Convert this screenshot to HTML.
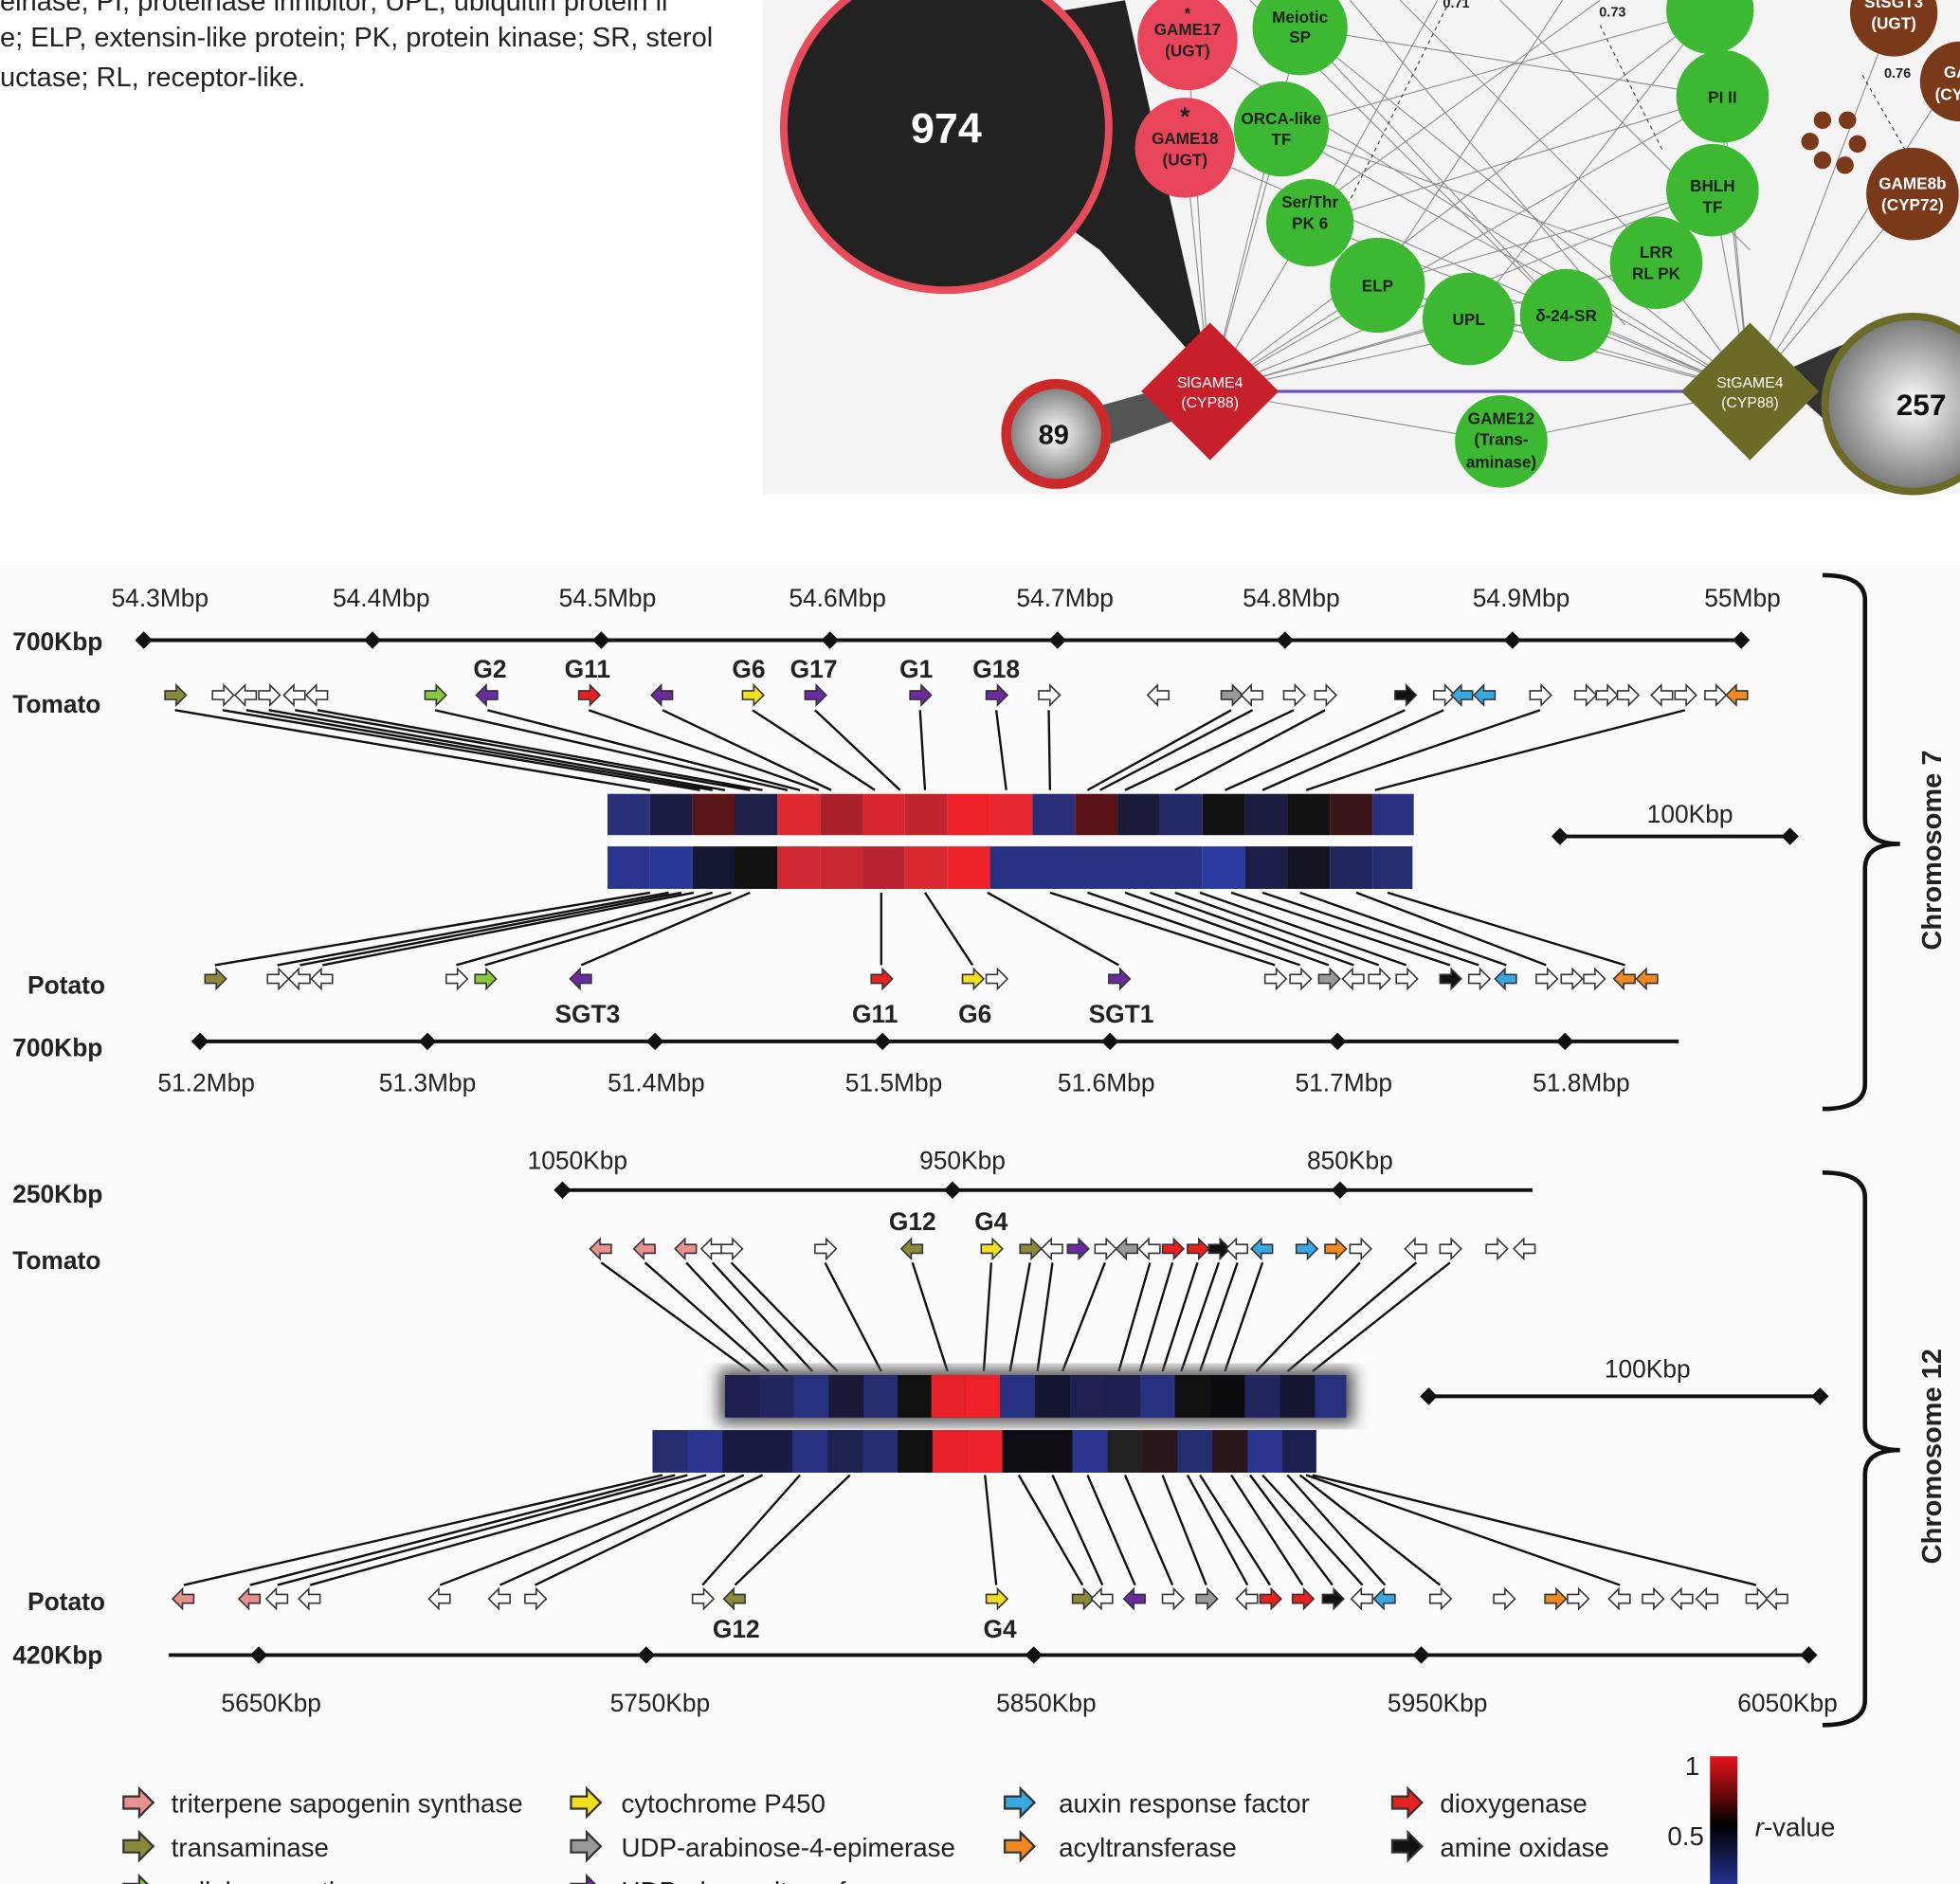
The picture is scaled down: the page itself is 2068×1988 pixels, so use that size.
<!DOCTYPE html>
<html><head><meta charset="utf-8"><style>
html,body{margin:0;padding:0;background:#fff}
svg{display:block}
text{font-family:"Liberation Sans",sans-serif}
</style></head><body>
<svg width="2068" height="1988" viewBox="0 0 1568 1507" xmlns="http://www.w3.org/2000/svg">
<defs>
<path id="ar" d="M-8,-3.5 H1 V-8 L9,0 L1,8 V3.5 H-8 Z" stroke="#333" stroke-width="1.2"/>
<path id="al" d="M8,-3.5 H-1 V-8 L-9,0 L-1,8 V3.5 H8 Z" stroke="#333" stroke-width="1.2"/>
<radialGradient id="gg" cx="0.5" cy="0.5" r="0.5"><stop offset="0" stop-color="#fff"/><stop offset="1" stop-color="#777"/></radialGradient>
<linearGradient id="cb" x1="0" y1="0" x2="0" y2="1"><stop offset="0" stop-color="#e8141c"/><stop offset="0.5" stop-color="#000"/><stop offset="1" stop-color="#2a3aa8"/></linearGradient>
<filter id="bl"><feGaussianBlur stdDeviation="6"/></filter>
</defs>
<rect width="1568" height="1507" fill="#fff"/>
<g font-size="22" fill="#222">
<text x="0" y="8">einase; PI, proteinase inhibitor; UPL, ubiquitin protein li</text>
<text x="0" y="37">e; ELP, extensin-like protein; PK, protein kinase; SR, sterol</text>
<text x="0" y="69">uctase; RL, receptor-like.</text>
</g>
<!-- network -->
<rect x="610" y="0" width="958" height="395" fill="#f4f4f4"/>
<g stroke="#888" stroke-width="0.8" fill="none">
<path d="M950,32L968,313M948,118L968,313M1040,22L968,313M1025,103L968,313M1048,178L968,313M1102,228L968,313M1175,255L968,313M1253,252L968,313M1325,210L968,313M1370,152L968,313M1378,77L968,313M1368,8L968,313M1201,353L968,313M1040,22L1400,313M1025,103L1400,313M1048,178L1400,313M1102,228L1400,313M1175,255L1400,313M1253,252L1400,313M1325,210L1400,313M1370,152L1400,313M1378,77L1400,313M1368,8L1400,313M1201,353L1400,313M1515,10L1400,313M1530,155L1400,313M1560,65L1400,313M950,32L1400,313M948,118L1400,313M1040,22L1378,77M1025,103L1368,8M1048,178L1378,77M1102,228L1370,152M1175,255L1368,8M1253,252L1040,22M1325,210L1025,103M1080,0L1300,260M1150,0L1050,180M1250,0L1100,230M1200,0L1400,200M1000,0L1250,250M1120,0L1320,200M1280,0L1060,160"/>
</g>
<g stroke="#333" stroke-width="0.8" stroke-dasharray="3,3" fill="none"><path d="M1160,0L1060,200M1280,20L1330,120M1490,60L1530,130"/></g>
<polygon points="660,40 900,0 968,300 880,200" fill="#222"/>
<circle cx="757" cy="102" r="130" fill="#222" stroke="#e84b5a" stroke-width="6"/>
<text x="757" y="114" font-size="34" font-weight="bold" fill="#fff" text-anchor="middle">974</text>
<polygon points="860,330 968,300 968,326 860,365" fill="#555"/>
<circle cx="845" cy="347" r="40" fill="url(#gg)" stroke="#cc2a2a" stroke-width="8"/>
<text x="843" y="355" font-size="22" font-weight="bold" text-anchor="middle" fill="#111">89</text>
<line x1="1020" y1="313" x2="1350" y2="313" stroke="#6a4fc8" stroke-width="2.5"/>
<polygon points="968,258 1023,313 968,368 913,313" fill="#c8202a"/>
<text x="968" y="310" font-size="12" fill="#fff" text-anchor="middle">SlGAME4</text>
<text x="968" y="326" font-size="12" fill="#fff" text-anchor="middle">(CYP88)</text>
<polygon points="1420,300 1520,255 1520,390" fill="#333"/>
<circle cx="1530" cy="323" r="70" fill="url(#gg)" stroke="#6b6a26" stroke-width="6"/>
<text x="1537" y="332" font-size="24" font-weight="bold" text-anchor="middle" fill="#111">257</text>
<polygon points="1400,258 1455,313 1400,368 1345,313" fill="#6b6a26"/>
<text x="1400" y="310" font-size="12" fill="#fff" text-anchor="middle">StGAME4</text>
<text x="1400" y="326" font-size="12" fill="#fff" text-anchor="middle">(CYP88)</text>
<g fill="#e8455a"><circle cx="950" cy="32" r="40"/><circle cx="948" cy="118" r="40"/></g>
<g font-size="13" font-weight="bold" fill="#222" text-anchor="middle">
<text x="950" y="15">*</text><text x="950" y="28">GAME17</text><text x="950" y="45">(UGT)</text>
<text x="948" y="100" font-size="20">*</text><text x="948" y="115">GAME18</text><text x="948" y="132">(UGT)</text>
</g>
<g fill="#3cb832">
<circle cx="1040" cy="22" r="38"/><circle cx="1025" cy="103" r="38"/><circle cx="1048" cy="178" r="35"/><circle cx="1102" cy="228" r="38"/><circle cx="1175" cy="255" r="37"/><circle cx="1253" cy="252" r="37"/><circle cx="1325" cy="210" r="37"/><circle cx="1370" cy="152" r="37"/><circle cx="1378" cy="77" r="37"/><circle cx="1368" cy="8" r="35"/><circle cx="1201" cy="353" r="37"/>
</g>
<g font-size="13" font-weight="bold" fill="#222" text-anchor="middle">
<text x="1040" y="18">Meiotic</text><text x="1040" y="34">SP</text>
<text x="1025" y="99">ORCA-like</text><text x="1025" y="116">TF</text>
<text x="1048" y="166">Ser/Thr</text><text x="1048" y="183">PK 6</text>
<text x="1102" y="233">ELP</text><text x="1175" y="260">UPL</text><text x="1253" y="257">δ-24-SR</text>
<text x="1325" y="206">LRR</text><text x="1325" y="223">RL PK</text>
<text x="1370" y="153">BHLH</text><text x="1370" y="170">TF</text><text x="1378" y="82">PI II</text>
<text x="1201" y="339">GAME12</text><text x="1201" y="356">(Trans-</text><text x="1201" y="374">aminase)</text>
<text x="1165" y="6" font-size="11">0.71</text><text x="1290" y="13" font-size="11">0.73</text><text x="1518" y="62" font-size="11">0.76</text>
</g>
<g fill="#7a3a1a"><circle cx="1515" cy="10" r="35"/><circle cx="1530" cy="155" r="37"/><circle cx="1568" cy="65" r="32"/>
<circle cx="1458" cy="96" r="7"/><circle cx="1478" cy="96" r="7"/><circle cx="1448" cy="113" r="7"/><circle cx="1486" cy="115" r="7"/><circle cx="1458" cy="128" r="7"/><circle cx="1476" cy="132" r="7"/></g>
<g font-size="13" font-weight="bold" fill="#fff" text-anchor="middle">
<text x="1515" y="6">StSGT3</text><text x="1515" y="23">(UGT)</text>
<text x="1530" y="151">GAME8b</text><text x="1530" y="168">(CYP72)</text>
<text x="1555" y="62" text-anchor="start">GAM</text><text x="1548" y="80" text-anchor="start">(CY</text>
</g>
<!-- bottom panel -->
<rect x="0" y="452" width="1568" height="1055" fill="#fbfbfb"/>
<g font-weight="bold" font-size="20" fill="#222">
<text x="10" y="520">700Kbp</text><text x="10" y="570">Tomato</text><text x="22" y="795">Potato</text><text x="10" y="845">700Kbp</text>
<text x="10" y="962">250Kbp</text><text x="10" y="1015">Tomato</text><text x="22" y="1288">Potato</text><text x="10" y="1331">420Kbp</text>
</g>
<g font-size="20" fill="#222" text-anchor="middle">
<text x="128" y="485">54.3Mbp</text><text x="305" y="485">54.4Mbp</text><text x="486" y="485">54.5Mbp</text><text x="670" y="485">54.6Mbp</text><text x="852" y="485">54.7Mbp</text><text x="1033" y="485">54.8Mbp</text><text x="1217" y="485">54.9Mbp</text><text x="1394" y="485">55Mbp</text>
<text x="165" y="873">51.2Mbp</text><text x="342" y="873">51.3Mbp</text><text x="525" y="873">51.4Mbp</text><text x="715" y="873">51.5Mbp</text><text x="885" y="873">51.6Mbp</text><text x="1075" y="873">51.7Mbp</text><text x="1265" y="873">51.8Mbp</text>
<text x="1352" y="658">100Kbp</text><text x="1318" y="1102">100Kbp</text>
<text x="462" y="935">1050Kbp</text><text x="770" y="935">950Kbp</text><text x="1080" y="935">850Kbp</text>
<text x="217" y="1369">5650Kbp</text><text x="528" y="1369">5750Kbp</text><text x="837" y="1369">5850Kbp</text><text x="1150" y="1369">5950Kbp</text><text x="1430" y="1369">6050Kbp</text>
</g>
<g font-weight="bold" font-size="20" fill="#222" text-anchor="middle">
<text x="392" y="542">G2</text><text x="470" y="542">G11</text><text x="599" y="542">G6</text><text x="651" y="542">G17</text><text x="733" y="542">G1</text><text x="797" y="542">G18</text>
<text x="470" y="818">SGT3</text><text x="700" y="818">G11</text><text x="780" y="818">G6</text><text x="897" y="818">SGT1</text>
<text x="730" y="984">G12</text><text x="793" y="984">G4</text><text x="589" y="1310">G12</text><text x="800" y="1310">G4</text>
</g>
<!-- rulers -->
<g stroke="#111" stroke-width="3">
<line x1="115" y1="512" x2="1395" y2="512"/><line x1="155" y1="833" x2="1343" y2="833"/>
<line x1="1248" y1="669" x2="1432" y2="669"/><line x1="450" y1="952" x2="1226" y2="952"/>
<line x1="135" y1="1324" x2="1450" y2="1324"/><line x1="1143" y1="1117" x2="1456" y2="1117"/>
</g>
<g fill="#111">
<g id="dd"></g>
<path d="M115,505l7,7l-7,7l-7,-7zM298,505l7,7l-7,7l-7,-7zM481,505l7,7l-7,7l-7,-7zM664,505l7,7l-7,7l-7,-7zM846,505l7,7l-7,7l-7,-7zM1028,505l7,7l-7,7l-7,-7zM1210,505l7,7l-7,7l-7,-7zM1393,505l7,7l-7,7l-7,-7z"/>
<path d="M160,826l7,7l-7,7l-7,-7zM342,826l7,7l-7,7l-7,-7zM524,826l7,7l-7,7l-7,-7zM706,826l7,7l-7,7l-7,-7zM888,826l7,7l-7,7l-7,-7zM1070,826l7,7l-7,7l-7,-7zM1252,826l7,7l-7,7l-7,-7z"/>
<path d="M1248,662l7,7l-7,7l-7,-7zM1432,662l7,7l-7,7l-7,-7zM1143,1110l7,7l-7,7l-7,-7zM1456,1110l7,7l-7,7l-7,-7z"/>
<path d="M450,945l7,7l-7,7l-7,-7zM762,945l7,7l-7,7l-7,-7zM1072,945l7,7l-7,7l-7,-7z"/>
<path d="M207,1317l7,7l-7,7l-7,-7zM517,1317l7,7l-7,7l-7,-7zM827,1317l7,7l-7,7l-7,-7zM1137,1317l7,7l-7,7l-7,-7zM1447,1317l7,7l-7,7l-7,-7z"/>
</g>
<!-- brackets -->
<g stroke="#111" stroke-width="3.5" fill="none">
<path d="M1458,460 Q1492,460 1492,480 L1492,655 Q1492,675 1520,675 Q1492,675 1492,695 L1492,867 Q1492,887 1458,887"/>
<path d="M1458,938 Q1492,938 1492,958 L1492,1140 Q1492,1160 1520,1160 Q1492,1160 1492,1180 L1492,1360 Q1492,1380 1458,1380"/>
</g>
<g font-weight="bold" font-size="22" fill="#222" text-anchor="middle">
<text transform="translate(1553,680) rotate(-90)">Chromosome 7</text>
<text transform="translate(1553,1165) rotate(-90)">Chromosome 12</text>
</g>
<!-- connecting lines -->
<g stroke="#111" stroke-width="1.8" fill="none">
<path d="M140,568L520,632M178,568L560,632M197,568L570,632M215,568L580,632M236,568L600,632M254,568L610,632M348,568L630,632M390,568L640,632M471,568L655,632M530,568L665,632M602,568L700,632M652,568L720,632M736,568L740,632M797,568L805,632M839,568L840,632M985,568L870,632M1002,568L880,632M1035,568L900,632M1060,568L940,632M1124,568L980,632M1155,568L1010,632M1232,568L1045,632M1348,568L1100,632"/>
<path d="M520,714L172,772M535,714L222,772M545,714L240,772M555,714L258,772M570,714L365,772M585,714L388,772M600,714L465,772M705,714L705,772M740,714L778,772M790,714L895,772M840,714L1020,772M870,714L1040,772M900,714L1063,772M920,714L1083,772M940,714L1103,772M960,714L1125,772M985,714L1160,772M1010,714L1183,772M1040,714L1205,772M1085,714L1237,772M1110,714L1300,772"/>
<path d="M481,1010L600,1097M516,1010L615,1097M549,1010L630,1097M570,1010L650,1097M585,1010L670,1097M660,1010L705,1097M730,1010L758,1097M793,1010L787,1097M824,1010L808,1097M842,1010L830,1097M884,1010L850,1097M920,1010L895,1097M938,1010L912,1097M958,1010L930,1097M975,1010L945,1097M990,1010L960,1097M1010,1010L980,1097M1088,1010L1005,1097M1133,1010L1030,1097M1160,1010L1050,1097"/>
<path d="M530,1180L147,1268M540,1180L200,1268M550,1180L222,1268M565,1180L248,1268M580,1180L352,1268M595,1180L400,1268M610,1180L428,1268M640,1180L562,1268M680,1180L588,1268M788,1180L797,1268M815,1180L866,1268M842,1180L882,1268M870,1180L908,1268M900,1180L938,1268M930,1180L965,1268M950,1180L998,1268M960,1180L1016,1268M985,1180L1042,1268M1000,1180L1066,1268M1010,1180L1090,1268M1030,1180L1108,1268M1040,1180L1152,1268M1045,1180L1296,1268M1050,1180L1405,1268"/>
</g>
<!-- heatmaps chr7 -->
<g>
<rect x="486" y="635" width="34" height="33" fill="#2a2f7a"/><rect x="520" y="635" width="34" height="33" fill="#1a1e44"/><rect x="554" y="635" width="34" height="33" fill="#5a1518"/><rect x="588" y="635" width="34" height="33" fill="#1c1f48"/><rect x="622" y="635" width="34" height="33" fill="#e02a30"/><rect x="656" y="635" width="34" height="33" fill="#a82028"/><rect x="690" y="635" width="34" height="33" fill="#d82530"/><rect x="724" y="635" width="34" height="33" fill="#c0242c"/><rect x="758" y="635" width="34" height="33" fill="#ee2028"/><rect x="792" y="635" width="34" height="33" fill="#e82830"/><rect x="826" y="635" width="34" height="33" fill="#2a2d78"/><rect x="860" y="635" width="34" height="33" fill="#5a1418"/><rect x="894" y="635" width="34" height="33" fill="#1a1c3a"/><rect x="928" y="635" width="34" height="33" fill="#242a68"/><rect x="962" y="635" width="34" height="33" fill="#111"/><rect x="996" y="635" width="34" height="33" fill="#1a1c40"/><rect x="1030" y="635" width="34" height="33" fill="#111"/><rect x="1064" y="635" width="34" height="33" fill="#3a1418"/><rect x="1098" y="635" width="33" height="33" fill="#2a3080"/>
<rect x="486" y="677" width="34" height="34" fill="#2a3590"/><rect x="520" y="677" width="34" height="34" fill="#2a3898"/><rect x="554" y="677" width="34" height="34" fill="#151832"/><rect x="588" y="677" width="34" height="34" fill="#111"/><rect x="622" y="677" width="34" height="34" fill="#d02830"/><rect x="656" y="677" width="34" height="34" fill="#c82830"/><rect x="690" y="677" width="34" height="34" fill="#b82430"/><rect x="724" y="677" width="34" height="34" fill="#d82830"/><rect x="758" y="677" width="34" height="34" fill="#ee2228"/><rect x="792" y="677" width="170" height="34" fill="#283282"/><rect x="962" y="677" width="34" height="34" fill="#2a3aa0"/><rect x="996" y="677" width="34" height="34" fill="#1a1e48"/><rect x="1030" y="677" width="34" height="34" fill="#121420"/><rect x="1064" y="677" width="34" height="34" fill="#222660"/><rect x="1098" y="677" width="32" height="34" fill="#262c70"/>
</g>
<!-- heatmaps chr12 -->
<rect x="575" y="1095" width="508" height="44" fill="#555" filter="url(#bl)"/>
<rect x="580" y="1100" width="497" height="34" fill="#1c2050"/>
<rect x="607" y="1100" width="28" height="34" fill="#222660"/><rect x="635" y="1100" width="28" height="34" fill="#283080"/><rect x="663" y="1100" width="28" height="34" fill="#181a38"/><rect x="691" y="1100" width="28" height="34" fill="#262c70"/><rect x="718" y="1100" width="27" height="34" fill="#111"/><rect x="745" y="1100" width="27" height="34" fill="#e8202a"/><rect x="772" y="1100" width="28" height="34" fill="#ee2028"/><rect x="800" y="1100" width="28" height="34" fill="#283282"/><rect x="828" y="1100" width="28" height="34" fill="#141630"/><rect x="856" y="1100" width="28" height="34" fill="#1e2250"/><rect x="912" y="1100" width="28" height="34" fill="#283080"/><rect x="940" y="1100" width="28" height="34" fill="#111"/><rect x="968" y="1100" width="28" height="34" fill="#0c0c10"/><rect x="996" y="1100" width="28" height="34" fill="#222660"/><rect x="1024" y="1100" width="28" height="34" fill="#141630"/><rect x="1052" y="1100" width="25" height="34" fill="#283080"/>
<rect x="522" y="1144" width="531" height="34" fill="#262c70"/>
<rect x="550" y="1144" width="28" height="34" fill="#2a3590"/><rect x="578" y="1144" width="56" height="34" fill="#181c44"/><rect x="634" y="1144" width="28" height="34" fill="#283080"/><rect x="662" y="1144" width="28" height="34" fill="#1e2250"/><rect x="718" y="1144" width="28" height="34" fill="#111"/><rect x="746" y="1144" width="28" height="34" fill="#e8202a"/><rect x="774" y="1144" width="28" height="34" fill="#ee2028"/><rect x="802" y="1144" width="56" height="34" fill="#0e0e14"/><rect x="858" y="1144" width="28" height="34" fill="#2a3590"/><rect x="886" y="1144" width="28" height="34" fill="#222"/><rect x="914" y="1144" width="28" height="34" fill="#2a1518"/><rect x="942" y="1144" width="28" height="34" fill="#262c70"/><rect x="970" y="1144" width="28" height="34" fill="#2a1518"/><rect x="998" y="1144" width="28" height="34" fill="#2a3590"/><rect x="1026" y="1144" width="27" height="34" fill="#1c2050"/>
<!-- arrows chr7 tomato -->
<g>
<use href="#ar" x="140" y="556" fill="#8a8a3a"/><use href="#ar" x="178" y="556" fill="#fff"/><use href="#al" x="197" y="556" fill="#fff"/><use href="#ar" x="215" y="556" fill="#fff"/><use href="#al" x="236" y="556" fill="#fff"/><use href="#al" x="254" y="556" fill="#fff"/>
<use href="#ar" x="348" y="556" fill="#8cc83c"/><use href="#al" x="390" y="556" fill="#6a2aa0"/><use href="#ar" x="471" y="556" fill="#e82020"/><use href="#al" x="530" y="556" fill="#6a2aa0"/><use href="#ar" x="602" y="556" fill="#f0e020"/><use href="#ar" x="652" y="556" fill="#6a2aa0"/><use href="#ar" x="736" y="556" fill="#6a2aa0"/><use href="#ar" x="797" y="556" fill="#6a2aa0"/><use href="#ar" x="839" y="556" fill="#fff"/>
<use href="#al" x="927" y="556" fill="#fff"/><use href="#ar" x="985" y="556" fill="#999"/><use href="#al" x="1002" y="556" fill="#fff"/><use href="#ar" x="1035" y="556" fill="#fff"/><use href="#ar" x="1060" y="556" fill="#fff"/><use href="#ar" x="1124" y="556" fill="#111"/><use href="#ar" x="1155" y="556" fill="#fff"/><use href="#al" x="1170" y="556" fill="#3aa8e0"/><use href="#al" x="1188" y="556" fill="#3aa8e0"/><use href="#ar" x="1232" y="556" fill="#fff"/><use href="#ar" x="1268" y="556" fill="#fff"/><use href="#ar" x="1285" y="556" fill="#fff"/><use href="#ar" x="1302" y="556" fill="#fff"/><use href="#al" x="1330" y="556" fill="#fff"/><use href="#ar" x="1348" y="556" fill="#fff"/><use href="#ar" x="1372" y="556" fill="#fff"/><use href="#al" x="1390" y="556" fill="#f08a20"/>
</g>
<!-- arrows chr7 potato -->
<g>
<use href="#ar" x="172" y="783" fill="#8a8a3a"/><use href="#ar" x="222" y="783" fill="#fff"/><use href="#al" x="240" y="783" fill="#fff"/><use href="#al" x="258" y="783" fill="#fff"/><use href="#ar" x="365" y="783" fill="#fff"/><use href="#ar" x="388" y="783" fill="#8cc83c"/><use href="#al" x="465" y="783" fill="#6a2aa0"/><use href="#ar" x="705" y="783" fill="#e82020"/><use href="#ar" x="778" y="783" fill="#f0e020"/><use href="#ar" x="797" y="783" fill="#fff"/><use href="#ar" x="895" y="783" fill="#6a2aa0"/>
<use href="#ar" x="1020" y="783" fill="#fff"/><use href="#ar" x="1040" y="783" fill="#fff"/><use href="#ar" x="1063" y="783" fill="#999"/><use href="#al" x="1083" y="783" fill="#fff"/><use href="#ar" x="1103" y="783" fill="#fff"/><use href="#ar" x="1125" y="783" fill="#fff"/><use href="#ar" x="1160" y="783" fill="#111"/><use href="#ar" x="1183" y="783" fill="#fff"/><use href="#al" x="1205" y="783" fill="#3aa8e0"/><use href="#ar" x="1237" y="783" fill="#fff"/><use href="#ar" x="1257" y="783" fill="#fff"/><use href="#ar" x="1275" y="783" fill="#fff"/><use href="#al" x="1300" y="783" fill="#f08a20"/><use href="#al" x="1318" y="783" fill="#f08a20"/>
</g>
<!-- arrows chr12 tomato -->
<g>
<use href="#al" x="481" y="999" fill="#e89090"/><use href="#al" x="516" y="999" fill="#e89090"/><use href="#al" x="549" y="999" fill="#e89090"/><use href="#al" x="570" y="999" fill="#fff"/><use href="#ar" x="585" y="999" fill="#fff"/><use href="#ar" x="660" y="999" fill="#fff"/><use href="#al" x="730" y="999" fill="#8a8a3a"/><use href="#ar" x="793" y="999" fill="#f0e020"/><use href="#ar" x="824" y="999" fill="#8a8a3a"/><use href="#al" x="842" y="999" fill="#fff"/><use href="#ar" x="862" y="999" fill="#6a2aa0"/><use href="#ar" x="884" y="999" fill="#fff"/><use href="#al" x="902" y="999" fill="#999"/><use href="#al" x="920" y="999" fill="#fff"/><use href="#ar" x="938" y="999" fill="#e82020"/><use href="#ar" x="958" y="999" fill="#e82020"/><use href="#ar" x="975" y="999" fill="#111"/><use href="#al" x="990" y="999" fill="#fff"/><use href="#al" x="1010" y="999" fill="#3aa8e0"/><use href="#ar" x="1045" y="999" fill="#3aa8e0"/><use href="#ar" x="1068" y="999" fill="#f08a20"/><use href="#ar" x="1088" y="999" fill="#fff"/><use href="#al" x="1133" y="999" fill="#fff"/><use href="#ar" x="1160" y="999" fill="#fff"/><use href="#ar" x="1197" y="999" fill="#fff"/><use href="#al" x="1220" y="999" fill="#fff"/>
</g>
<!-- arrows chr12 potato -->
<g>
<use href="#al" x="147" y="1279" fill="#e89090"/><use href="#al" x="200" y="1279" fill="#e89090"/><use href="#al" x="222" y="1279" fill="#fff"/><use href="#al" x="248" y="1279" fill="#fff"/><use href="#al" x="352" y="1279" fill="#fff"/><use href="#al" x="400" y="1279" fill="#fff"/><use href="#ar" x="428" y="1279" fill="#fff"/><use href="#ar" x="562" y="1279" fill="#fff"/><use href="#al" x="588" y="1279" fill="#8a8a3a"/><use href="#ar" x="797" y="1279" fill="#f0e020"/><use href="#ar" x="866" y="1279" fill="#8a8a3a"/><use href="#al" x="882" y="1279" fill="#fff"/><use href="#al" x="908" y="1279" fill="#6a2aa0"/><use href="#ar" x="938" y="1279" fill="#fff"/><use href="#ar" x="965" y="1279" fill="#999"/><use href="#al" x="998" y="1279" fill="#fff"/><use href="#ar" x="1016" y="1279" fill="#e82020"/><use href="#ar" x="1042" y="1279" fill="#e82020"/><use href="#ar" x="1066" y="1279" fill="#111"/><use href="#al" x="1090" y="1279" fill="#fff"/><use href="#al" x="1108" y="1279" fill="#3aa8e0"/><use href="#ar" x="1152" y="1279" fill="#fff"/><use href="#ar" x="1203" y="1279" fill="#fff"/><use href="#ar" x="1244" y="1279" fill="#f08a20"/><use href="#ar" x="1262" y="1279" fill="#fff"/><use href="#al" x="1296" y="1279" fill="#fff"/><use href="#ar" x="1322" y="1279" fill="#fff"/><use href="#al" x="1346" y="1279" fill="#fff"/><use href="#al" x="1366" y="1279" fill="#fff"/><use href="#ar" x="1405" y="1279" fill="#fff"/><use href="#al" x="1422" y="1279" fill="#fff"/>
</g>
<!-- legend -->
<g transform="translate(0,0)">
<use href="#ar" transform="translate(110,1442) scale(1.4)" fill="#e89090"/><use href="#ar" transform="translate(110,1477) scale(1.4)" fill="#8a8a3a"/><use href="#ar" transform="translate(110,1512) scale(1.4)" fill="#8cc83c"/>
<use href="#ar" transform="translate(468,1442) scale(1.4)" fill="#f0e020"/><use href="#ar" transform="translate(468,1477) scale(1.4)" fill="#999"/><use href="#ar" transform="translate(468,1512) scale(1.4)" fill="#6a2aa0"/>
<use href="#ar" transform="translate(815,1442) scale(1.4)" fill="#3aa8e0"/><use href="#ar" transform="translate(815,1477) scale(1.4)" fill="#f08a20"/>
<use href="#ar" transform="translate(1125,1442) scale(1.4)" fill="#e82020"/><use href="#ar" transform="translate(1125,1477) scale(1.4)" fill="#111"/>
</g>
<g font-size="21" fill="#222">
<text x="137" y="1450">triterpene sapogenin synthase</text><text x="137" y="1485">transaminase</text><text x="137" y="1520">cellulose synthase</text>
<text x="497" y="1450">cytochrome P450</text><text x="497" y="1485">UDP-arabinose-4-epimerase</text><text x="497" y="1520">UDP-glucosyltransferase</text>
<text x="847" y="1450">auxin response factor</text><text x="847" y="1485">acyltransferase</text>
<text x="1152" y="1450">dioxygenase</text><text x="1152" y="1485">amine oxidase</text>
<text x="1348" y="1420">1</text><text x="1334" y="1476">0.5</text><text x="1404" y="1469"><tspan font-style="italic">r</tspan>-value</text>
</g>
<rect x="1368" y="1405" width="22" height="110" fill="url(#cb)"/>
</svg>
</body></html>
